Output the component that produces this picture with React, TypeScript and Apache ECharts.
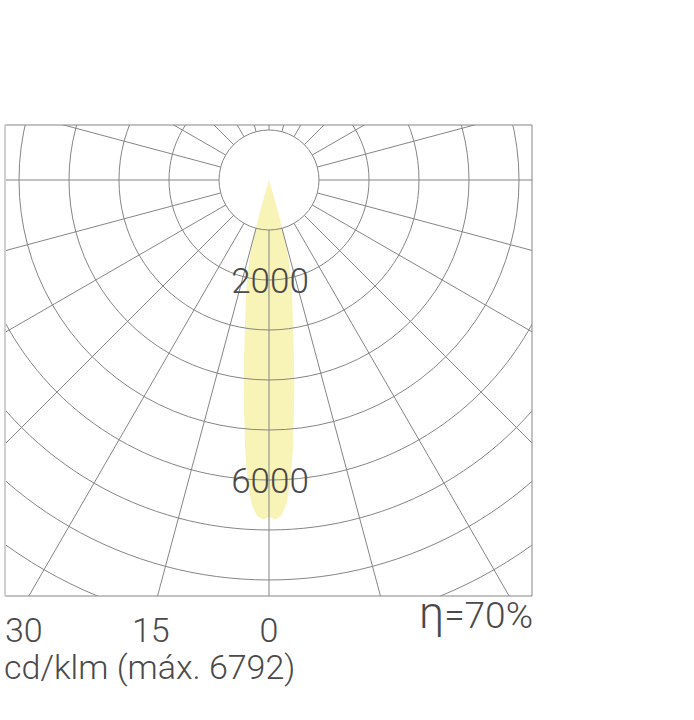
import { useEffect, useRef } from 'react'
import * as echarts from 'echarts'

// curva fotométrica (cd/klm) — ángulo desde la vertical hacia abajo, en grados
const beamAngles = [0, 1, 2, 3, 4, 5, 6, 7, 8, 9, 10, 11, 12, 13, 14, 15, 16, 17, 18]
const beamValues = [6740, 6792, 6730, 6520, 6080, 5450, 4750, 4150, 3580, 3100, 2720, 2440, 2160, 1880, 1600, 1250, 700, 150, 0]

// rejilla polar
const circleRadii = [1000, 2000, 3000, 4000, 5000, 6000, 7000, 8000, 9000, 10000]
const spokeAngles = [0, 15, 30, 45, 60, 75, 90, 105, 120, 135, 150, 165, 180, 195, 210, 225, 240, 255, 270, 285, 300, 315, 330, 345]
const radiusLabels = [2000, 6000]

// textos de pie
const scaleLabels = ['30', '15', '0']
const unitLabel = 'cd/klm (máx. 6792)'
const efficiencyLabel = '=70%'

const FONT = 'Roboto, "Liberation Sans", sans-serif'
const TEXT_COLOR = '#4a4a4a'
const GRID_COLOR = '#858585'

const toXY = (angleDeg: number, value: number) => {
    const a = (angleDeg * Math.PI) / 180
    return [value * Math.sin(a), -value * Math.cos(a)]
}

export default function App() {
    const chartRef = useRef<HTMLDivElement>(null)

    useEffect(() => {
        if (!chartRef.current) return
        const chart = echarts.init(chartRef.current, undefined, { renderer: 'svg' })

        const scalePos = [
            { x: 5, align: 'left' },
            { x: 132, align: 'left' },
            { x: 269, align: 'center' }
        ]

        chart.setOption({
            animation: false,
            grid: {
                left: 5,
                top: 125,
                width: 527,
                height: 471,
                show: true,
                borderColor: GRID_COLOR,
                borderWidth: 1,
                backgroundColor: 'transparent'
            },
            xAxis: { type: 'value', min: -5280, max: 5260, show: false },
            yAxis: { type: 'value', min: -8320, max: 1100, show: false },
            series: [
                {
                    // haz de luz
                    type: 'custom',
                    clip: true,
                    data: [[0, 0]],
                    renderItem: (_params: any, api: any) => {
                        const pts: number[][] = []
                        for (let i = beamAngles.length - 1; i >= 0; i--) {
                            pts.push(api.coord(toXY(-beamAngles[i], beamValues[i])))
                        }
                        for (let i = 1; i < beamAngles.length; i++) {
                            pts.push(api.coord(toXY(beamAngles[i], beamValues[i])))
                        }
                        return {
                            type: 'polygon',
                            shape: { points: pts },
                            style: { fill: '#f8f4b8', stroke: 'none' }
                        }
                    }
                },
                {
                    // círculos
                    type: 'custom',
                    clip: true,
                    data: circleRadii.map(r => [r, 0]),
                    renderItem: (_params: any, api: any) => {
                        const c = api.coord([0, 0])
                        const rp = api.size([api.value(0), 0])[0]
                        return {
                            type: 'circle',
                            shape: { cx: c[0], cy: c[1], r: rp },
                            style: { fill: 'none', stroke: GRID_COLOR, lineWidth: 1 }
                        }
                    }
                },
                {
                    // radios
                    type: 'custom',
                    clip: true,
                    data: spokeAngles.map(a => [a, 0]),
                    renderItem: (_params: any, api: any) => {
                        const a = api.value(0)
                        const p1 = api.coord(toXY(a, circleRadii[0]))
                        const p2 = api.coord(toXY(a, 14000))
                        return {
                            type: 'line',
                            shape: { x1: p1[0], y1: p1[1], x2: p2[0], y2: p2[1] },
                            style: { stroke: GRID_COLOR, lineWidth: 1 }
                        }
                    }
                },
                {
                    // etiquetas de intensidad
                    type: 'custom',
                    clip: true,
                    data: radiusLabels.map(v => [v, 0]),
                    renderItem: (_params: any, api: any) => {
                        const v = api.value(0)
                        const p = api.coord([0, -v])
                        return {
                            type: 'text',
                            x: p[0] + 1,
                            y: p[1] + 1,
                            style: {
                                text: String(v),
                                fontSize: 35,
                                fontWeight: 300,
                                fontFamily: FONT,
                                fill: TEXT_COLOR,
                                align: 'center',
                                verticalAlign: 'middle'
                            }
                        }
                    }
                }
            ],
            graphic: [
                {
                    type: 'rect',
                    shape: { x: 4, y: 125, width: 2, height: 471 },
                    style: { fill: '#d0d0d0' },
                    z: 10
                },
                ...scaleLabels.map((t, i) => ({
                    type: 'text',
                    x: scalePos[i].x,
                    y: 630,
                    style: {
                        text: t,
                        fontSize: 34,
                        lineHeight: 30,
                        fontWeight: 300,
                        fontFamily: FONT,
                        fill: TEXT_COLOR,
                        align: scalePos[i].align,
                        verticalAlign: 'middle'
                    }
                })),
                {
                    type: 'text',
                    x: 4,
                    y: 667,
                    style: {
                        text: unitLabel,
                        fontSize: 34,
                        lineHeight: 30,
                        fontWeight: 300,
                        fontFamily: FONT,
                        fill: TEXT_COLOR,
                        align: 'left',
                        verticalAlign: 'middle'
                    }
                },
                {
                    type: 'text',
                    x: 444,
                    y: 612,
                    style: {
                        text: 'η',
                        fontSize: 45,
                        fontWeight: 300,
                        fontFamily: FONT,
                        fill: TEXT_COLOR,
                        align: 'right',
                        verticalAlign: 'middle'
                    }
                },
                {
                    type: 'text',
                    x: 533,
                    y: 615,
                    style: {
                        text: efficiencyLabel,
                        fontSize: 37,
                        fontWeight: 300,
                        fontFamily: FONT,
                        fill: TEXT_COLOR,
                        align: 'right',
                        verticalAlign: 'middle'
                    }
                }
            ]
        })

        return () => chart.dispose()
    }, [])

    return (
        <div
            ref={chartRef}
            style={{ position: 'fixed', left: 0, top: 0, width: 694, height: 720, background: '#fff' }}
        />
    )
}
